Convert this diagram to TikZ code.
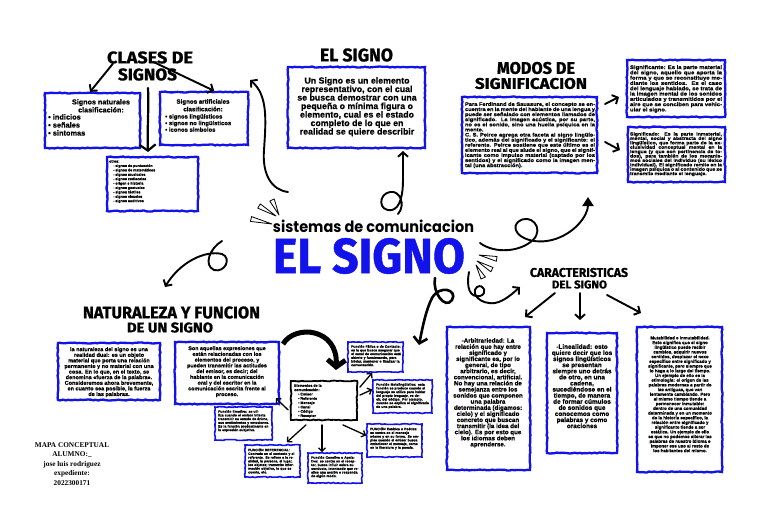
\documentclass[tikz,border=0pt]{standalone}
\usepackage{fontspec}
\usepackage{graphicx}
\usetikzlibrary{arrows.meta,decorations.pathmorphing}
\setmainfont{Liberation Sans}[BoldFeatures={FakeBold=0.5}]
\newfontfamily\widef{Liberation Sans}[FakeStretch=1.12, BoldFeatures={FakeBold=0.5}]
\newfontfamily\titf{Fira Sans}[FakeBold=1]
\newfontfamily\popf{Poppins}
\newfontfamily\serf{Liberation Serif}
\definecolor{sblue}{RGB}{18,18,235}
\newcommand\fsz[2]{\fontsize{#1}{#2}\selectfont}
\newcommand\ttl[3]{\resizebox{#1pt}{#2pt}{\titf\bfseries #3}}
\newcommand\mybox[6]{\node[#1, minimum width={(#4-#2)*1pt}, minimum height={(#5-#3)*1pt}] (#6) at ({(#2+#4)/2},{(#3+#5)/2}) {};}
\begin{document}
\begin{tikzpicture}[x=1pt,y=-1pt,
  bluebox/.style={draw=sblue, line width=2.3pt, decorate, decoration={random steps,segment length=2.5pt,amplitude=0.5pt}, inner sep=0pt, rectangle},
  smallbox/.style={bluebox, line width=1.6pt},
  blackbox/.style={bluebox, draw=black, line width=1.8pt},
  txt/.style={inner sep=0pt, font=\bfseries},
  arr/.style={line width=1.9pt, line cap=round, -{Straight Barb[length=4.5pt,width=10pt]}},
  sarr/.style={line width=1.3pt, line cap=round, -{Straight Barb[length=3.5pt,width=7pt]}},
  bigarr/.style={line width=5pt, -{Straight Barb[length=7pt,width=18pt]}},
  spk/.style={line width=0.8pt, line join=round, fill=white},
]
\pgfmathsetseed{5}
\fill[white] (0,0) rectangle (768,523);
\useasboundingbox (0,0) rectangle (768,523);

% ---------- titles ----------
\node[inner sep=0pt] (tclases1) at (150,57.5) {\ttl{86}{12}{CLASES DE}};
\node[inner sep=0pt] (tclases2) at (147.5,74.5) {\ttl{59}{12}{SIGNOS}};
\node[inner sep=0pt] (tsig) at (356.5,55) {\ttl{73}{13}{EL SIGNO}};
\node[inner sep=0pt] (tmod1) at (536,68) {\ttl{78}{12}{MODOS DE}};
\node[inner sep=0pt] (tmod2) at (531,83.5) {\ttl{112}{11}{SIGNIFICACION}};
\node[inner sep=0pt] (tnat1) at (171.5,312.5) {\ttl{177}{12}{NATURALEZA Y FUNCION}};
\node[inner sep=0pt] (tnat2) at (170,327.5) {\ttl{86}{10}{DE UN SIGNO}};
\node[inner sep=0pt] (tcar1) at (579,272.5) {\ttl{98}{9}{CARACTERISTICAS}};
\node[inner sep=0pt] (tcar2) at (579.5,284.5) {\ttl{55}{8}{DEL SIGNO}};
\node[inner sep=0pt] (tsis) at (373.5,226) {\resizebox{201pt}{12.5pt}{\popf\bfseries sistemas de comunicacion}};
\node[inner sep=0pt, text=sblue] (tmain) at (369,256) {\resizebox{192pt}{35pt}{\titf\bfseries EL SIGNO}};

% ---------- boxes ----------
\mybox{bluebox}{45}{93}{140}{148}{natB}
\mybox{bluebox}{160}{92}{248}{145}{artB}
\mybox{bluebox}{107}{157}{198}{211}{otrB}
\mybox{bluebox}{288}{67}{425}{148}{sigB}
\mybox{bluebox}{462}{97}{597}{173}{modB}
\mybox{bluebox}{627}{60}{725}{117}{sgteB}
\mybox{bluebox}{628}{127}{725}{182}{sgdoB}
\mybox{bluebox}{58}{343}{160}{400}{nat1B}
\mybox{bluebox}{175}{342}{279}{404}{nat2B}
\mybox{bluebox}{447}{327}{530}{470}{arbB}
\mybox{bluebox}{547}{333}{617}{453}{linB}
\mybox{bluebox}{637}{327}{722}{472}{mutB}
\mybox{blackbox}{291}{381}{357}{420}{elemB}
\mybox{smallbox}{348}{342}{403}{372}{fatB}
\mybox{smallbox}{373}{380}{432}{413}{metB}
\mybox{smallbox}{367}{424}{422}{457}{poeB}
\mybox{smallbox}{308}{453}{362}{483}{conB}
\mybox{smallbox}{245}{445}{300}{477}{refB}
\mybox{smallbox}{215}{407}{272}{440}{emoB}

% ---------- box texts ----------
\node[txt, anchor=north, align=center, font=\bfseries\fsz{7.2}{8}] (natH) at (101,99) {Signos naturales\\clasificación:};
\node[txt, anchor=north west, align=left, font=\bfseries\fsz{7.4}{8}] (natL) at (48,114) {\textbullet\ indicios\\\textbullet\ señales\\\textbullet\ sintomas};
\node[txt, anchor=north, align=center, font=\bfseries\fsz{6.2}{7.6}] (artH) at (203,99) {Signos artificiales\\clasificación:};
\node[txt, anchor=north west, align=left, font=\bfseries\fsz{5.9}{6.6}] (artL) at (165,114) {\textbullet\ signos lingüísticos\\\textbullet\ signos no lingüísticos\\\textbullet\ iconos simbolos};
\node[txt, anchor=north west, align=left, font=\bfseries\fsz{3.6}{4.4}] (otrT) at (109,160) {otros:\\\hspace*{4pt}- signos de puntuación\\\hspace*{4pt}- signos de matemáticos\\\hspace*{4pt}- signos musicales\\\hspace*{4pt}- signos zodiacales\\\hspace*{4pt}- origen e historia\\\hspace*{4pt}- signos gestuales\\\hspace*{4pt}- signos táctiles\\\hspace*{4pt}- signos visuales\\\hspace*{4pt}- signos auditivos};

\node[txt, anchor=north, align=center, font=\bfseries\fsz{8.8}{8.5}] (sigT) at (357,77) {Un Signo es un elemento\\representativo, con el cual\\se busca demostrar con una\\pequeña o mínima figura o\\elemento, cual es el estado\\completo de lo que en\\realidad se quiere describir};

\node[txt, anchor=north, text width=130pt, align=justify, font=\widef\bfseries\fsz{5.1}{5.1}] (modT) at (530,102) {Para Ferdinand de Saussure, el concepto se encuentra en la mente del hablante de una lengua y puede ser señalado con elementos llamados de significado. La imagen acústica, por su parte, no es el sonido, sino una huella psíquica en la mente.\\C. S. Peirce agrega otra faceta al signo lingüístico, además del significado y el significante: el referente. Peirce sostiene que este último es el elemento real al que alude el signo, que el significante como impulso material (captado por los sentidos) y el significado como la imagen mental (una abstracción).};

\node[txt, anchor=north, text width=92pt, align=justify, font=\widef\bfseries\fsz{5.3}{5.3}] (sgteT) at (676,65) {Significante: Es la parte material del signo, aquello que aporta la forma y que se reconstituye mediante los sentidos. Es el caso del lenguaje hablado, se trata de la imagen mental de los sonidos articulados y transmitidos por el aire que se conciben para vehicular el signo.};
\node[txt, anchor=north, text width=92pt, align=justify, font=\widef\bfseries\fsz{4.6}{4.4}] (sgdoT) at (676,132) {Significado: Es la parte inmaterial, mental, social y abstracta del signo lingüístico, que forma parte de la exclusividad conceptual mental en la lengua (y que son pertinencia de todos), para también de los mecanismos sociales del individuo (su léxico individual). El significado remite en la imagen psíquica o al contenido que se transmite mediante el lenguaje.};

\node[txt, anchor=north, align=center, font=\bfseries\fsz{5.5}{5.6}] (nat1T) at (109,347) {la naturaleza del signo es una\\realidad dual: es un objeto\\material que porta una relación\\permanente y no material con una\\cosa. En lo que, en el texto, se\\denomina «fuerza de la palabra».\\Consideremos ahora brevemente,\\en cuanto sea posible, la fuerza\\de las palabras.};
\node[txt, anchor=north, align=center, font=\bfseries\fsz{5.4}{5.75}] (nat2T) at (227,346) {Son aquellas expresiones que\\están relacionadas con los\\elementos del proceso, y\\pueden transmitir las actitudes\\del emisor, es decir; del\\hablante en la comunicación\\oral y del escritor en la\\comunicación escrita frente al\\proceso.};

\node[txt, anchor=north, align=center, font=\bfseries\fsz{6.2}{6.1}] (arbT) at (488,338) {-Arbitrariedad: La\\relación que hay entre\\significado y\\significante es, por lo\\general, de tipo\\arbitrario, es decir,\\convencional, artificial.\\No hay una relación de\\semejanza entre los\\sonidos que componen\\una palabra\\determinada (digamos:\\cielo) y el significado\\concreto que buscan\\transmitir (la idea del\\cielo). Es por esto que\\los idiomas deben\\aprenderse.};
\node[txt, anchor=north, align=center, font=\bfseries\fsz{6.4}{6.1}] (linT) at (582,344) {-Linealidad: esto\\quiere decir que los\\signos lingüísticos\\se presentan\\siempre uno detrás\\de otro, en una\\cadena,\\sucediéndose en el\\tiempo, de manera\\de formar cúmulos\\de sonidos que\\conocemos como\\palabras y como\\oraciones};
\node[txt, anchor=north, align=center, font=\bfseries\fsz{4.4}{4.7}] (mutT) at (680,336) {Mutabilidad e inmutabilidad.\\Esto significa que el signo\\lingüístico puede recibir\\cambios, adquirir nuevos\\sentidos, desplazar el nexo\\específico entre significado y\\significante, pero siempre que\\lo haga a lo largo del tiempo.\\Un ejemplo de ello es la\\etimología: el origen de las\\palabras modernas a partir de\\las antiguas, que van\\lentamente cambiando. Pero\\al mismo tiempo tiende a\\permanecer inmutable:\\dentro de una comunidad\\determinada y en un momento\\de la historia específico, la\\relación entre significado y\\significante tiende a ser\\estática. Un ejemplo de ello\\es que no podemos alterar las\\palabras de nuestro idioma e\\imponer ese uso al resto de\\los habitantes del mismo.};

\node[txt, anchor=north west, align=left, font=\bfseries\fsz{3.6}{4.3}] (elemT) at (294,384) {Elementos de la\\comunicación:\\\hspace*{4pt}\textbullet\ Emisor\\\hspace*{4pt}\textbullet\ Referente\\\hspace*{4pt}\textbullet\ Mensaje\\\hspace*{4pt}\textbullet\ Canal\\\hspace*{4pt}\textbullet\ Código\\\hspace*{4pt}\textbullet\ Receptor};

\node[txt, anchor=north west, text width=50pt, align=left, font=\bfseries\fsz{3.4}{3.7}] (fatT) at (351,345) {Función Fática o de Contacto: es la que busca asegurar que el canal de comunicación está abierto y funcionando, para iniciar, mantener o finalizar la conversación.};
\node[txt, anchor=north west, text width=53pt, align=left, font=\bfseries\fsz{3.4}{3.7}] (metT) at (376,383) {Función Metalingüística: esta función se produce cuando el lenguaje se utiliza para hablar del propio lenguaje, es decir, del código. Por ejemplo, cuando se explica el significado de una palabra.};
\node[txt, anchor=north west, text width=49pt, align=left, font=\bfseries\fsz{3.4}{3.7}] (poeT) at (370,427) {FUNCIÓN Estética o Poética: se centra en el mensaje mismo y en su forma. Se emplea cuando el emisor busca embellecer el mensaje, como en la literatura y la poesía.};
\node[txt, anchor=north west, text width=48pt, align=left, font=\bfseries\fsz{3.4}{3.7}] (conT) at (311,456) {Función Conativa o Apelativa: se centra en el receptor, busca influir sobre su conducta, intentando que realice una acción o responda de algún modo.};
\node[txt, anchor=north west, text width=49pt, align=left, font=\bfseries\fsz{3.4}{3.7}] (refT) at (248,448) {FUNCIÓN REFERENCIAL: Centrada en el contexto y el referente. Se refiere a la realidad, la persona, el lugar, los objetos; transmite información objetiva, lo que se cuenta, etc.};
\node[txt, anchor=north west, text width=51pt, align=left, font=\bfseries\fsz{3.4}{3.7}] (emoT) at (218,410) {Función Emotiva: se utiliza cuando el emisor intenta transmitir su estado de ánimo, sus sentimientos y emociones. Es la función predominante en la expresión subjetiva.};

\node[inner sep=0pt, anchor=north, align=center, font=\serf\bfseries\fsz{7.3}{9.6}] (alumno) at (72,442) {MAPA CONCEPTUAL\\ALUMNO:\_\\jose luis rodriguez\\expediente:\\2022300171};

% ---------- straight arrows ----------
\draw[arr] ([shift={(-5,0)}]tclases2.west |- tclases1.south) -- (natB.north -| 90,0);
\draw[arr] ([shift={(-40,-2)}]tclases1.south east) -- ([shift={(-35,0)}]artB.north east);
\draw[arr, line width=2.2pt, -{Straight Barb[length=6pt,width=16pt]}] (148,88) .. controls (149,110) and (147,130) .. (148,152);

\draw[arr] (555,293) -- (525,317);
\draw[arr] (580,293) -- (580,320);
\draw[arr] (607,295) -- (641,313);
\draw[arr] (605,104) -- (619,97);
\draw[arr] (605,142) -- (620,150);

\draw[sarr] ([shift={(2,7)}]elemB.north east) -- ([shift={(25,0)}]fatB.south west);
\draw[sarr] ([shift={(2,15)}]elemB.north east) -- ([shift={(0,-7)}]metB.west);
\draw[sarr] ([shift={(-15,4)}]elemB.south east) -- ([shift={(0,-5)}]poeB.west);
\draw[sarr] ([shift={(-2,4)}]elemB.south) -- (conB.north -| 322,0);
\draw[sarr] ([shift={(-18,4)}]elemB.south) -- ([shift={(-14,-2)}]refB.north east);
\draw[sarr] ([shift={(-2,-11)}]elemB.south west) -- ([shift={(3,-8)}]emoB.north east);

% ---------- curvy arrows ----------
\draw[arr] (288,192) .. controls (272,190) and (262,175) .. (264,150) .. controls (266,120) and (268,95) .. (250,80);
\draw[arr] (398,214) .. controls (406,205) and (400,190) .. (390,192) .. controls (378,194) and (378,212) .. (392,210) .. controls (400,208) and (403,195) .. (403,180) -- (403,151);
\draw[arr] (222,241) .. controls (210,248) and (203,265) .. (214,270) .. controls (225,273) and (232,258) .. (222,254) .. controls (205,250) and (180,262) .. (165,287);
\draw[line width=1.9pt, line cap=round, -{Triangle[length=9pt,width=11pt]}] (480,243) .. controls (495,254) and (520,252) .. (533,240) .. controls (545,228) and (530,212) .. (518,222) .. controls (508,232) and (528,246) .. (552,240) .. controls (575,234) and (588,215) .. (588,197);
\draw[arr] (469,272) .. controls (466,288) and (470,298) .. (480,296) .. controls (488,294) and (484,283) .. (477,287) .. controls (470,293) and (480,305) .. (495,303) .. controls (505,301) and (513,293) .. (520,287);
\draw[arr, line width=2.6pt, -{Straight Barb[length=6pt,width=14pt]}] (435,278) .. controls (432,292) and (445,310) .. (452,300) .. controls (458,290) and (440,284) .. (432,298) .. controls (426,310) and (423,325) .. (419,345);
\draw[bigarr] (283,344) .. controls (295,324) and (338,328) .. (336,370);

% ---------- spikes ----------
\draw[spk] (276,216) -- (257.7,208.1) -- (260.3,203.9) -- cycle;
\draw[spk] (279,215) -- (269.8,201.1) -- (274.2,198.9) -- cycle;
\draw[spk] (272,224) -- (250.4,221.4) -- (251.6,216.6) -- cycle;
\draw[spk] (479,255) -- (497,256.5) -- (496.4,261.3) -- cycle;
\draw[spk] (477,261) -- (493,267.5) -- (490.8,271.8) -- cycle;
\draw[spk] (476,265) -- (485.4,277) -- (481,279) -- cycle;
\end{tikzpicture}
\end{document}
